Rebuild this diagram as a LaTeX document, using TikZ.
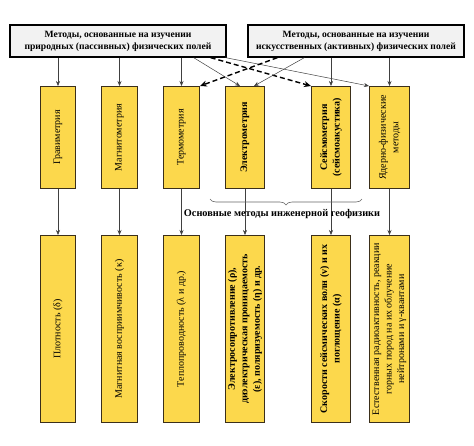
\documentclass[tikz,border=0pt]{standalone}
\usepackage{fontspec}
\setmainfont{Liberation Serif}
\usetikzlibrary{positioning,arrows.meta,decorations.pathreplacing}
\definecolor{boxyellow}{HTML}{FCD84C}
\definecolor{boxedge}{HTML}{3B2F1A}
\definecolor{topgray}{HTML}{F2F2F2}
\newcommand{\vtext}[2]{\rotatebox{90}{\parbox{#1}{\centering #2}}}

\begin{document}
\begin{tikzpicture}[x=1pt, y=-1pt,
    topbox/.style={draw=black, line width=1.3pt, fill=topgray, minimum width=216pt, minimum height=32pt, inner sep=0pt, align=center, font=\fontsize{9.6}{12}\selectfont\bfseries},
    midbox/.style={draw=boxedge, line width=1pt, fill=boxyellow, minimum height=102pt, inner sep=0pt, font=\fontsize{10}{12.5}\selectfont},
    lowbox/.style={midbox, minimum height=187pt},
    arr/.style={-{Stealth[length=5pt,width=4pt]}, draw=black!75, line width=0.5pt},
    darr/.style={-{Stealth[length=7pt,width=6pt]}, dash pattern=on 5pt off 3pt, line width=1.4pt}]

    \useasboundingbox (0,0) rectangle (474,445);

    % верхние блоки
    \node[topbox] (t1) at (118,41) {Методы, основанные на изучении\\природных (пассивных) физических полей};
    \node[topbox] (t2) at (356,41) {Методы, основанные на изучении\\искусственных (активных) физических полей};

    % методы
    \node[midbox, minimum width=35pt, anchor=north west] (m1) at (40,86) {\vtext{98pt}{Гравиметрия}};
    \node[midbox, minimum width=36pt] (m2) [right=25pt of m1] {\vtext{98pt}{Магнитометрия}};
    \node[midbox, minimum width=36pt] (m3) [right=25pt of m2] {\vtext{98pt}{Термометрия}};
    \node[midbox, minimum width=39pt] (m4) [right=25pt of m3] {\vtext{98pt}{\bfseries Электрометрия}};
    \node[midbox, minimum width=39pt] (m5) [right=46pt of m4] {\vtext{98pt}{\bfseries Сейсмометрия\\(сейсмоакустика)}};
    \node[midbox, minimum width=40pt] (m6) [right=18pt of m5] {\vtext{98pt}{Ядерно-физические\\методы}};

    % параметры
    \node[lowbox, minimum width=35pt] (b1) [below=46pt of m1] {\vtext{185pt}{Плотность (δ)}};
    \node[lowbox, minimum width=36pt] (b2) [below=46pt of m2] {\vtext{185pt}{Магнитная восприимчивость (κ)}};
    \node[lowbox, minimum width=36pt] (b3) [below=46pt of m3] {\vtext{185pt}{Теплопроводность (λ и др.)}};
    \node[lowbox, minimum width=39pt] (b4) [below=46pt of m4] {\vtext{185pt}{\bfseries Электросопротивление (ρ),\\ диэлектрическая проницаемость\\ (ε), поляризуемость (η) и др.}};
    \node[lowbox, minimum width=39pt] (b5) [below=46pt of m5] {\vtext{185pt}{\bfseries Скорости сейсмических волн (v) и их\\ поглощение (α)}};
    \node[lowbox, minimum width=40pt] (b6) [below=46pt of m6] {\vtext{185pt}{Естественная радиоактивность, реакции\\ горных пород на их облучение\\ нейтронами и γ-квантами}};

    % стрелки от верхних блоков
    \draw[arr] (t1.south -| m1) -- (m1.north);
    \draw[arr] (t1.south -| m2) -- (m2.north);
    \draw[arr] (t1.south -| m3) -- (m3.north);
    \draw[arr] ([xshift=-33pt]t1.south east) -- ([xshift=15pt]m4.north west);
    \draw[arr] ([xshift=-1pt]t1.south east) -- (m6.north west);
    \draw[darr] ([xshift=-16pt]t1.south east) -- (m5.north west);
    \draw[darr] ([xshift=30pt]t2.south west) -- (m3.north east);
    \draw[arr] ([xshift=57pt]t2.south west) -- ([xshift=-11pt]m4.north east);
    \draw[arr] (t2.south -| m5) -- (m5.north);
    \draw[arr] (t2.south -| m6) -- (m6.north);

    % стрелки вниз
    \foreach \i in {1,...,6}
        \draw[arr] (m\i.south) -- (b\i.north);

    % фигурная скобка
    \draw[decorate, decoration={brace, amplitude=6pt}, draw=black!60, line width=0.6pt] ([xshift=11pt,yshift=-10pt]m5.south east) -- ([xshift=10pt,yshift=-10pt]m3.south east);
    \node[font=\fontsize{10.3}{12}\selectfont\bfseries] (osn) at (282,214) {Основные методы инженерной геофизики};
\end{tikzpicture}
\end{document}
